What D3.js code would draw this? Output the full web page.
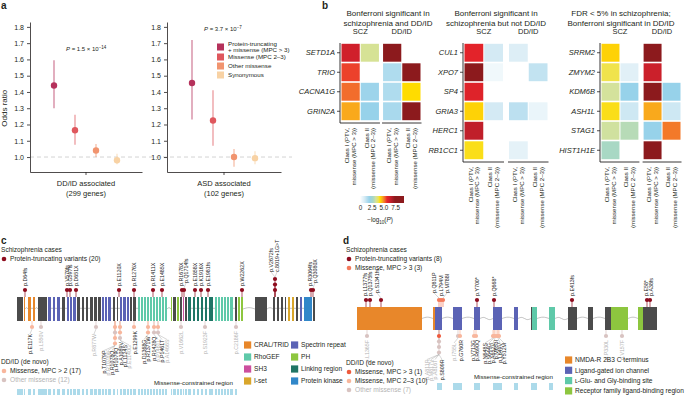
<!DOCTYPE html>
<html>
<head>
<meta charset="utf-8">
<script src="https://cdn.jsdelivr.net/npm/d3@7"></script>
<style>
  body { margin: 0; background: #fff; }
  svg { font-family: "Liberation Sans", Arial, sans-serif; }
</style>
</head>
<body>
<script>
// ---------- data ----------
// panel a: odds ratios
var orCats = ["ptv", "mpc23", "other", "syn"];
var orLegend = [["Protein-truncating", "+ missense (MPC > 3)"], ["Missense (MPC 2–3)"], ["Other missense"], ["Synonymous"]];
var orColors = ["#b5315b", "#df575d", "#f1946f", "#f8d2a4"];
var orTicks = [1.0, 1.1, 1.2, 1.3, 1.4, 1.5, 1.6, 1.7, 1.8];
var ddOR = [1.44, 1.165, 1.04, 0.98];
var ddLo = [1.30, 1.075, 1.00, 0.955];
var ddHi = [1.595, 1.26, 1.08, 1.02];
var asdOR = [1.455, 1.225, 1.00, 0.993];
var asdLo = [1.23, 1.07, 0.94, 0.955];
var asdHi = [1.72, 1.41, 1.05, 1.035];

// panel b: -log10(P) heatmaps (SCZ class I, SCZ class II, DD class I, DD class II)
var heatGroups = ["SCZ", "DD/ID"];
var heatClasses = ["I", "II"];
var heatColLabels = [["Class I (PTV,", "missense (MPC > 3))"], ["Class II", "(missense (MPC 2–3))"]];
var heat1Genes = ["SETD1A", "TRIO", "CACNA1G", "GRIN2A"];
var heat1Vals = [[6.3, 3.45, 7.6, null], [5.6, null, 1.6, 8.2], [5.3, 1.9, 1.6, 4.3], [4.8, 2.0, 1.7, 8.0]];
var heat2Genes = ["CUL1", "XPO7", "SP4", "GRIA3", "HERC1", "RB1CC1"];
var heat2Vals = [[5.9, 1.0, 0.8, null], [7.8, 0.35, null, 1.3], [6.0, null, null, null],
                 [4.4, 1.0, 1.4, 0.5], [6.6, null, null, null], [4.2, null, 0.6, null]];
var heat3Genes = ["SRRM2", "ZMYM2", "KDM6B", "ASH1L", "STAG1", "HIST1H1E"];
var heat3Vals = [[4.4, null, 7.8, null], [4.0, 0.7, 6.4, null], [3.4, 2.0, 7.8, 2.0],
                 [4.2, 1.1, 4.8, 1.1], [3.35, 3.0, 2.0, 5.2], [2.8, null, 7.8, null]];
var heatStops = [0, 1, 2, 2.8, 3.4, 4.0, 4.3, 4.8, 5.3, 5.8, 6.5, 7.5];
var heatColors = ["#ffffff", "#d4eaf4", "#97d2ea", "#a8d8c4", "#d4e29c", "#f0e34c", "#ffdc00", "#f9a91c", "#f26d2c", "#e8242a", "#c61f2b", "#8c1a1d"];
var cbTicks = [0, 2.5, 5.0, 7.5];

// panels c/d: domain colours
var domainColors = { g: "#4b4b4b", o: "#e8872a", b: "#5b63b5", t: "#5fc9a9", p: "#8dc63f",
                     m: "#cc4f9e", l: "#1f7565", i: "#d9a62b", k: "#3187c9" };
var trioLegend = [["o", "CRAL/TRID"], ["t", "RhoGEF"], ["m", "SH3"], ["i", "I-set"],
                  ["b", "Spectrin repeat"], ["p", "PH"], ["l", "Linking region"], ["k", "Protein kinase"]];
var grinLegend = [["o", "NMDA-R 2B3 C terminus"], ["b", "Ligand-gated ion channel"],
                  ["t", "ʟ-Glu- and Gly-binding site"], ["p", "Receptor family ligand-binding region"]];

// TRIO exons [start, end, domain] in schematic units
var trioExons = [[0,6,"g"],[7,8,"o"],[11,14,"o"],[16,18,"o"],[21,30,"g"],[31,34,"b"],[36,38,"b"],[40,43,"b"],
  [45,48,"g"],[50,52,"b"],[53,55,"b"],[56,59,"b"],[60,63,"g"],[65,67,"g"],[69,71,"g"],[73,76,"g"],[77,80,"g"],
  [81,84,"g"],[85,87,"b"],[88,90,"b"],[91,94,"b"],[96,98,"g"],[100,101,"g"],[103,105,"b"],[106,109,"b"],
  [110,112,"b"],[113,115,"g"],[116,119,"g"],[121,123,"t"],[124,126,"t"],[127,129,"t"],[130,132,"t"],
  [133,135,"t"],[136,138,"t"],[139,141,"t"],[142,144,"t"],[145,147,"t"],[148,150,"t"],[154,155,"p"],
  [156,159,"g"],[160,162,"p"],[163,165,"g"],[166,167,"m"],[168,170,"g"],[171,174,"l"],[176,178,"l"],
  [180,182,"l"],[184,186,"l"],[188,190,"l"],[192,196,"l"],[198,200,"t"],[201,203,"t"],[204,206,"t"],
  [207,209,"t"],[210,212,"t"],[213,216,"t"],[218,220,"g"],[221,223,"p"],[224,226,"p"],[238,250,"g"],
  [256,258,"g"],[260,262,"g"],[264,266,"g"],[268,269,"g"],[271,273,"i"],[275,277,"i"],[279,281,"g"],
  [283,285,"b"],[287,295,"k"],[296,298,"g"]];
var trioAbove = [
  {pos: 8, label: "p.D64fs", cls: "ptv"}, {pos: 50, label: "p.V570fs", cls: "ptv"},
  {pos: 53, label: "p.G597fs", cls: "ptv"}, {pos: 59, label: "p.D651X", cls: "ptv"},
  {pos: 102, label: "p.E1120X", cls: "ptv"}, {pos: 117, label: "p.R1276X", cls: "ptv"},
  {pos: 136, label: "p.R1411X", cls: "ptv"}, {pos: 145, label: "p.E1485X", cls: "ptv"},
  {pos: 165, label: "p.R1678X", cls: "ptv", lx: 164}, {pos: 167, label: "p.Q1714fs", cls: "ptv", lx: 169},
  {pos: 178, label: "p.E1858X", cls: "ptv"}, {pos: 184, label: "p.K1916X", cls: "ptv"},
  {pos: 191, label: "p.E1981fs", cls: "ptv"}, {pos: 225, label: "p.W2262X", cls: "ptv"},
  {pos: 258, label: "p.V2672fs", cls: "ptv", lx: 254}, {pos: 258, label: "c.8019+1G>T", cls: "ptv", lx: 260},
  {pos: 258, label: "", cls: "ptv"}, {pos: 294, label: "p.R3064fs", cls: "ptv", lx: 293},
  {pos: 296, label: "p.Q3080X", cls: "ptv", lx: 298}];
var trioBelow = [
  {pos: 15, label: "p.E117K", cls: "hi", lx: 13}, {pos: 24, label: "p.L550V", cls: "lo"},
  {pos: 79, label: "p.R877W", cls: "lo", lx: 77},
  {pos: 98, label: "p.T1079P", cls: "hi", lx: 87}, {pos: 98, label: "p.R1078W", cls: "lo", lx: 91},
  {pos: 98, label: "p.R1078Q", cls: "hi", lx: 95}, {pos: 98, label: "p.R1079Q", cls: "hi", lx: 99},
  {pos: 103, label: "p.A1089V", cls: "hi", lx: 104}, {pos: 103, label: "p.L1124S", cls: "hi", lx: 108},
  {pos: 103, label: "p.E1140G", cls: "lo", lx: 112},
  {pos: 117, label: "p.E1299K", cls: "hi", lx: 118},
  {pos: 131, label: "p.D1368G", cls: "hi", lx: 127}, {pos: 131, label: "p.R1371W", cls: "hi", lx: 131},
  {pos: 137, label: "p.R1428Q", cls: "hi", lx: 137}, {pos: 137, label: "p.P1461L", cls: "lo", lx: 141},
  {pos: 141, label: "p.P1461T", cls: "hi", lx: 145}, {pos: 141, label: "p.A1466S", cls: "lo", lx: 150},
  {pos: 164, label: "p.V1662L", cls: "lo"}, {pos: 188, label: "p.S1923F", cls: "lo"},
  {pos: 219, label: "p.C2186F", cls: "lo"}];

// GRIN2A exons
var grinExons = [[0,65,"o"],[76,78,"o"],[78,85,"b"],[96,105,"b"],[117,123,"b"],[136,145,"b"],[157,161,"b"],
  [174,175,"g"],[175,180,"t"],[192,198,"t"],[211,220,"g"],[231,236,"g"],[248,254,"g"],[254,271,"p"],
  [281,286,"p"],[286,300,"g"]];
var grinAbove = [
  {pos: 9, label: "p.L1377fs", cls: "ptv", lx: 8}, {pos: 13, label: "p.Q1375fs", cls: "ptv", lx: 13},
  {pos: 24, label: "p.S1341fs", cls: "ptv", lx: 20},
  {pos: 82, label: "p.Q811P", cls: "scz", lx: 77}, {pos: 84, label: "p.L794M", cls: "scz", lx: 84},
  {pos: 86, label: "p.M788I", cls: "scz", lx: 90},
  {pos: 120, label: "p.Y700*", cls: "ptv"}, {pos: 137, label: "p.Q668*", cls: "ptv"},
  {pos: 215, label: "p.E413fs", cls: "ptv"}, {pos: 290, label: "p.E58*", cls: "ptv", lx: 289},
  {pos: 293, label: "p.A38fs", cls: "ptv", lx: 294}];
var grinBelow = [
  {pos: 10, label: "p.L1365F", cls: "lo"},
  {pos: 82, label: "p.S809R", cls: "sev", lx: 85}, {pos: 82, label: "p.A811R", cls: "lo", lx: 70},
  {pos: 82, label: "p.M817V", cls: "lo", lx: 74}, {pos: 82, label: "p.A816T", cls: "lo", lx: 78},
  {pos: 101, label: "p.I755L", cls: "lo", lx: 97}, {pos: 103, label: "p.G760R", cls: "hi", lx: 104},
  {pos: 117, label: "p.V713G", cls: "hi", lx: 116}, {pos: 119, label: "p.R690Q", cls: "hi", lx: 120},
  {pos: 136, label: "p.N648S", cls: "hi", lx: 128}, {pos: 137, label: "p.S644G", cls: "hi", lx: 132},
  {pos: 138, label: "p.A652V", cls: "hi", lx: 136}, {pos: 140, label: "p.M653I", cls: "hi", lx: 139},
  {pos: 141, label: "p.L649V", cls: "hi", lx: 143}, {pos: 142, label: "p.Y512M", cls: "hi", lx: 147},
  {pos: 249, label: "p.P330L", cls: "lo"}, {pos: 265, label: "p.V157F", cls: "lo"}];

var varColors = { ptv: "#8e0c1e", scz: "#f47a5c", sev: "#ee5a3d", hi: "#f8b69c", lo: "#d8c3c1" };
var labelColors = { ptv: "#222", scz: "#222", sev: "#222", hi: "#222", lo: "#b3b3b3" };

// ---------- svg ----------
var w = 685, h = 395;
var svg = d3.select("body").append("svg").attr("width", w).attr("height", h);
var ink = "#231f20";

function panelLabel(t, x, y) {
  svg.append("text").attr("x", x).attr("y", y).attr("font-size", 10).attr("font-weight", "bold")
     .attr("fill", ink).text(t);
}
panelLabel("a", 1, 9);
panelLabel("b", 322, 9);
panelLabel("c", 1, 244);
panelLabel("d", 343, 244);

// ---------- panel a ----------
var yA = d3.scaleLinear().domain([0.908, 1.83]).range([172, 22]);

svg.append("line").attr("x1", 30).attr("x2", 292).attr("y1", yA(1)).attr("y2", yA(1))
   .attr("stroke", "#c8c8c8").attr("stroke-width", 0.8).attr("stroke-dasharray", "4,3");

svg.append("text").attr("transform", "translate(7," + yA(1.3) + ") rotate(-90)")
   .attr("text-anchor", "middle").attr("font-size", 8).attr("fill", ink).text("Odds ratio");

function drawOR(axisX, axisEnd, ptRange, vals, lo, hi, name, genes, pText, pExp, pX, pY) {
  var g = svg.append("g");
  var yAxis = d3.axisLeft(yA).tickValues(orTicks).tickFormat(d3.format(".1f")).tickSize(3).tickSizeOuter(0);
  g.append("g").attr("transform", "translate(" + axisX + ",0)").call(yAxis)
   .call(function(s) {
     s.selectAll("text").attr("font-size", 7).attr("fill", ink).attr("font-family", null);
     s.selectAll("line,path").attr("stroke", ink).attr("stroke-width", 0.8);
   });
  var xb = d3.scaleBand().domain([name]).range([axisX, axisEnd]);
  g.append("g").attr("transform", "translate(0," + yA.range()[0] + ")")
   .call(d3.axisBottom(xb).tickSize(3).tickSizeOuter(0).tickFormat(""))
   .call(function(s) { s.selectAll("line,path").attr("stroke", ink).attr("stroke-width", 0.8); });
  var lab = g.append("text").attr("x", xb(name) + xb.bandwidth() / 2).attr("y", 186)
   .attr("text-anchor", "middle").attr("font-size", 7.5).attr("fill", ink);
  lab.append("tspan").text(name);
  lab.append("tspan").attr("x", xb(name) + xb.bandwidth() / 2).attr("dy", 9.5).text(genes);

  var xp = d3.scalePoint().domain(orCats).range(ptRange);
  g.selectAll("line.ci").data(orCats).join("line")
   .attr("x1", function(d) { return xp(d); }).attr("x2", function(d) { return xp(d); })
   .attr("y1", function(d, i) { return yA(lo[i]); }).attr("y2", function(d, i) { return yA(hi[i]); })
   .attr("stroke", function(d, i) { return orColors[i]; }).attr("stroke-width", 1.1).attr("opacity", 0.7);
  g.selectAll("circle").data(orCats).join("circle")
   .attr("cx", function(d) { return xp(d); }).attr("cy", function(d, i) { return yA(vals[i]); })
   .attr("r", 3.2).attr("fill", function(d, i) { return orColors[i]; });

  var pt = g.append("text").attr("x", pX).attr("y", pY).attr("font-size", 6).attr("fill", ink);
  pt.append("tspan").attr("font-style", "italic").text("P");
  pt.append("tspan").text(pText);
  pt.append("tspan").attr("dy", -2.5).attr("font-size", 4.5).text(pExp);
}
drawOR(30, 142, [54, 117], ddOR, ddLo, ddHi, "DD/ID associated", "(299 genes)", " = 1.5 × 10", "−14", 66, 51);
drawOR(167, 281, [192, 255], asdOR, asdLo, asdHi, "ASD associated", "(102 genes)", " = 3.7 × 10", "−7", 204, 31);

// legend a
var legA = svg.append("g");
var legY = [47, 57, 66, 75];
orLegend.forEach(function(lines, i) {
  legA.append("rect").attr("x", 217).attr("y", legY[i] - 3.5).attr("width", 7).attr("height", 7)
      .attr("fill", orColors[i]);
  var t = legA.append("text").attr("x", 228).attr("y", legY[i] + 2.2 - (lines.length - 1) * 3.2)
      .attr("font-size", 6.2).attr("fill", ink);
  lines.forEach(function(l, k) {
    t.append("tspan").attr("x", 228).attr("dy", k ? 6.4 : 0).text(l);
  });
});

// ---------- panel b ----------
var heatColor = d3.scaleLinear().domain(heatStops).range(heatColors).clamp(true);

function drawHeat(genes, vals, axisX, groupRange, pad, title, titleX) {
  var g = svg.append("g");
  var rowTop = 43, rowStep = 19.5;
  var y = d3.scaleBand().domain(genes).range([rowTop, rowTop + rowStep * genes.length]);
  var axisY = y.range()[1] + 2;
  var gx = d3.scaleBand().domain(heatGroups).range(groupRange).paddingInner(pad);
  var cx = d3.scaleBand().domain(heatClasses).range([0, gx.bandwidth()]);
  var cells = [];
  vals.forEach(function(row, r) {
    row.forEach(function(v, c) {
      if (v !== null) cells.push({ gene: genes[r], grp: heatGroups[Math.floor(c / 2)], cls: heatClasses[c % 2], v: v });
    });
  });
  g.selectAll("rect").data(cells).join("rect")
   .attr("x", function(d) { return gx(d.grp) + cx(d.cls) + 0.5; })
   .attr("y", function(d) { return y(d.gene) + 0.8; })
   .attr("width", cx.bandwidth() - 1).attr("height", y.bandwidth() - 1.6)
   .attr("fill", function(d) { return heatColor(d.v); });

  // axes
  g.append("g").attr("transform", "translate(" + axisX + ",0)")
   .call(d3.axisLeft(y).tickSize(3).tickSizeOuter(0).tickPadding(2))
   .call(function(s) {
     s.select("path").remove();
     s.selectAll("text").attr("font-size", 7.5).attr("font-style", "italic").attr("fill", ink).attr("font-family", null);
     s.selectAll("line").attr("stroke", ink).attr("stroke-width", 0.8);
   });
  g.append("line").attr("x1", axisX).attr("x2", axisX).attr("y1", rowTop).attr("y2", axisY)
   .attr("stroke", ink).attr("stroke-width", 0.9);
  heatGroups.forEach(function(grp, i) {
    g.append("line").attr("x1", i ? gx(grp) - 0.5 : axisX).attr("x2", gx(grp) + gx.bandwidth() + 0.5)
     .attr("y1", axisY).attr("y2", axisY).attr("stroke", ink).attr("stroke-width", 0.9);
    g.append("text").attr("x", gx(grp) + gx.bandwidth() / 2).attr("y", 34).attr("text-anchor", "middle")
     .attr("font-size", 7.5).attr("fill", ink).text(grp);
    heatClasses.forEach(function(cl, k) {
      var c = gx(grp) + cx(cl) + cx.bandwidth() / 2;
      heatColLabels[k].forEach(function(line, j) {
        g.append("text").attr("transform", "translate(" + (c + (j ? 3.4 : -3.4)) + "," + (axisY + 5) + ") rotate(-90)")
         .attr("dy", "0.35em").attr("text-anchor", "end").attr("font-size", 6.1).attr("fill", ink).text(line);
      });
    });
  });
  title.forEach(function(t, i) {
    g.append("text").attr("x", titleX).attr("y", 15.5 + i * 10).attr("text-anchor", "middle")
     .attr("font-size", 8).attr("fill", ink).text(t);
  });
}
drawHeat(heat1Genes, heat1Vals, 340, [341, 421], 0.075, ["Bonferroni significant in", "schizophrenia and DD/ID"], 388);
drawHeat(heat2Genes, heat2Vals, 463, [464, 548], 0.112, ["Bonferroni significant in", "schizophrenia but not DD/ID"], 496);
drawHeat(heat3Genes, heat3Vals, 600, [601, 681], 0.1, ["FDR < 5% in schizophrenia;", "Bonferroni significant in DD/ID"], 621);

// colour bar
var cbX = d3.scaleLinear().domain([0, 7.5]).range([360, 395]);
var grad = svg.append("defs").append("linearGradient").attr("id", "cbGrad");
var cbMin = cbX.invert(357), cbMax = cbX.invert(404);
d3.range(0, 1.0001, 0.02).forEach(function(t) {
  grad.append("stop").attr("offset", t).attr("stop-color", heatColor(cbMin + t * (cbMax - cbMin)));
});
svg.append("rect").attr("x", 357).attr("y", 196).attr("width", 47).attr("height", 7).attr("fill", "url(#cbGrad)");
svg.append("g").attr("transform", "translate(0,203)")
   .call(d3.axisBottom(cbX).tickValues(cbTicks).tickFormat(function(d) { return d ? d.toFixed(1) : "0"; }).tickSize(0).tickPadding(3))
   .call(function(s) {
     s.select("path").remove();
     s.selectAll("text").attr("font-size", 6.3).attr("fill", ink).attr("font-family", null);
   });
var cbl = svg.append("text").attr("x", 380).attr("y", 222).attr("text-anchor", "middle").attr("font-size", 6.3).attr("fill", ink);
cbl.append("tspan").text("−log");
cbl.append("tspan").attr("font-size", 4.5).attr("dy", 1.5).text("10");
cbl.append("tspan").attr("dy", -1.5).text("(");
cbl.append("tspan").attr("font-style", "italic").text("P");
cbl.append("tspan").text(")");

// ---------- panels c, d ----------
function geneDiagram(cfg) {
  var g = svg.append("g");
  var x = d3.scaleLinear().domain([0, 300]).range(cfg.range);
  var top = cfg.top, bot = cfg.top + cfg.height, mid = (top + bot) / 2;
  var wave = d3.line().curve(d3.curveBasis);

  // constrained region
  var cr = cfg.constrained;
  var crBars = cfg.exons.filter(function(e) { return e[1] > cr[0] && e[0] < cr[1]; });
  g.selectAll("rect.cr").data(crBars).join("rect").attr("class", "cr")
   .attr("x", function(e) { return x(Math.max(e[0], cr[0])); })
   .attr("width", function(e) { return Math.max(1, x(Math.min(e[1], cr[1])) - x(Math.max(e[0], cr[0]))); })
   .attr("y", cfg.crY).attr("height", cfg.crH).attr("fill", "#acdaea");
  g.append("text").attr("x", x(cr[1]) - cfg.crTextShift).attr("y", cfg.crY - 4).attr("text-anchor", "end")
   .attr("font-size", 6.2).attr("fill", ink).text("Missense-constrained region");

  // introns
  for (var i = 0; i < cfg.exons.length - 1; i++) {
    var a = x(cfg.exons[i][1]), b = x(cfg.exons[i + 1][0]);
    if (b - a < 1.2) continue;
    var n = Math.max(2, Math.round((b - a) / 5));
    var pts = d3.range(n + 1).map(function(k) {
      return [a + (b - a) * k / n, (k === 0 || k === n) ? mid : mid + (k % 2 ? -2 : 2)];
    });
    g.append("path").attr("d", wave(pts)).attr("fill", "none").attr("stroke", "#9a9a9a").attr("stroke-width", 0.6);
  }
  // exons
  g.selectAll("rect.ex").data(cfg.exons).join("rect").attr("class", "ex")
   .attr("x", function(e) { return x(e[0]); })
   .attr("width", function(e) { return Math.max(0.8, x(e[1]) - x(e[0])); })
   .attr("y", top).attr("height", cfg.height)
   .attr("fill", function(e) { return domainColors[e[2]]; });

  function lollipops(list, dir) {
    var count = {}, step = 5.5, start = dir < 0 ? top - 7 : bot + 6;
    list.forEach(function(v) { v._i = count[v.pos] = (count[v.pos] || 0); count[v.pos]++; });
    list.forEach(function(v) {
      var cy = start + dir * v._i * step;
      g.append("line").attr("x1", x(v.pos)).attr("x2", x(v.pos)).attr("y1", dir < 0 ? top : bot).attr("y2", cy)
       .attr("stroke", varColors[v.cls]).attr("stroke-width", 0.7);
    });
    list.forEach(function(v) {
      var cy = start + dir * v._i * step;
      g.append("circle").attr("cx", x(v.pos)).attr("cy", cy).attr("r", 2.1).attr("fill", varColors[v.cls]);
    });
    list.forEach(function(v) {
      if (!v.label) return;
      var edge = start + dir * (count[v.pos] - 1) * step + dir * 3;
      var lx = x(v.lx !== undefined ? v.lx : v.pos);
      var ly = edge + dir * (Math.abs(lx - x(v.pos)) > 1.5 ? 4 : 1);
      if (Math.abs(lx - x(v.pos)) > 1.5) {
        g.append("line").attr("x1", x(v.pos)).attr("y1", edge - dir * 1).attr("x2", lx).attr("y2", ly)
         .attr("stroke", "#999").attr("stroke-width", 0.4);
      }
      g.append("text").attr("transform", "translate(" + lx + "," + ly + ") rotate(-90)")
       .attr("dy", "0.35em").attr("text-anchor", dir < 0 ? "start" : "end")
       .attr("font-size", 5.3).attr("fill", labelColors[v.cls]).text(v.label);
    });
  }
  lollipops(cfg.above, -1);
  lollipops(cfg.below, 1);

  // domain legend
  cfg.legend.forEach(function(d, i) {
    var col = Math.floor(i / cfg.legRows), row = i % cfg.legRows;
    var lx = cfg.legX + col * cfg.legColW, ly = cfg.legY + row * cfg.legStep;
    g.append("rect").attr("x", lx).attr("y", ly - 3.6).attr("width", 7.2).attr("height", 7.2).attr("fill", domainColors[d[0]]);
    g.append("text").attr("x", lx + 10).attr("y", ly + 2.3).attr("font-size", 6.6).attr("fill", ink).text(d[1]);
  });

  // variant legends
  cfg.keys.forEach(function(k) {
    if (k.cls) {
      g.append("circle").attr("cx", cfg.keyX).attr("cy", k.y).attr("r", 2.3).attr("fill", varColors[k.cls]);
      g.append("text").attr("x", cfg.keyX + 6).attr("y", k.y + 2.3).attr("font-size", 6.6)
       .attr("fill", k.cls === "lo" ? "#b3b3b3" : ink).text(k.text);
    } else {
      g.append("text").attr("x", cfg.keyX - 3).attr("y", k.y + 2.3).attr("font-size", 6.6).attr("fill", ink).text(k.text);
    }
  });
}

geneDiagram({
  range: [17, 317], top: 297, height: 24, exons: trioExons, above: trioAbove, below: trioBelow,
  constrained: [0, 220], crY: 389, crH: 7, crTextShift: 4,
  legend: trioLegend, legRows: 4, legX: 244, legY: 345, legStep: 12, legColW: 47,
  keyX: 4,
  keys: [{ text: "Schizophrenia cases", y: 250 }, { cls: "ptv", text: "Protein-truncating variants (20)", y: 259 },
         { text: "DD/ID (de novo)", y: 362 }, { cls: "hi", text: "Missense, MPC > 2 (17)", y: 371 },
         { cls: "lo", text: "Other missense (12)", y: 380 }]
});

geneDiagram({
  range: [357, 657], top: 307, height: 23, exons: grinExons, above: grinAbove, below: grinBelow,
  constrained: [80, 196], crY: 383, crH: 7, crTextShift: 0,
  legend: grinLegend, legRows: 4, legX: 565, legY: 360, legStep: 10.3, legColW: 0,
  keyX: 349,
  keys: [{ text: "Schizophrenia cases", y: 250 }, { cls: "ptv", text: "Protein-truncating variants (8)", y: 259 },
         { cls: "scz", text: "Missense, MPC > 3 (3)", y: 268 },
         { text: "DD/ID (de novo)", y: 363 }, { cls: "sev", text: "Missense, MPC > 3 (1)", y: 372 },
         { cls: "hi", text: "Missense, MPC 2–3 (10)", y: 381 }, { cls: "lo", text: "Other missense (7)", y: 390 }]
});
</script>
</body>
</html>
